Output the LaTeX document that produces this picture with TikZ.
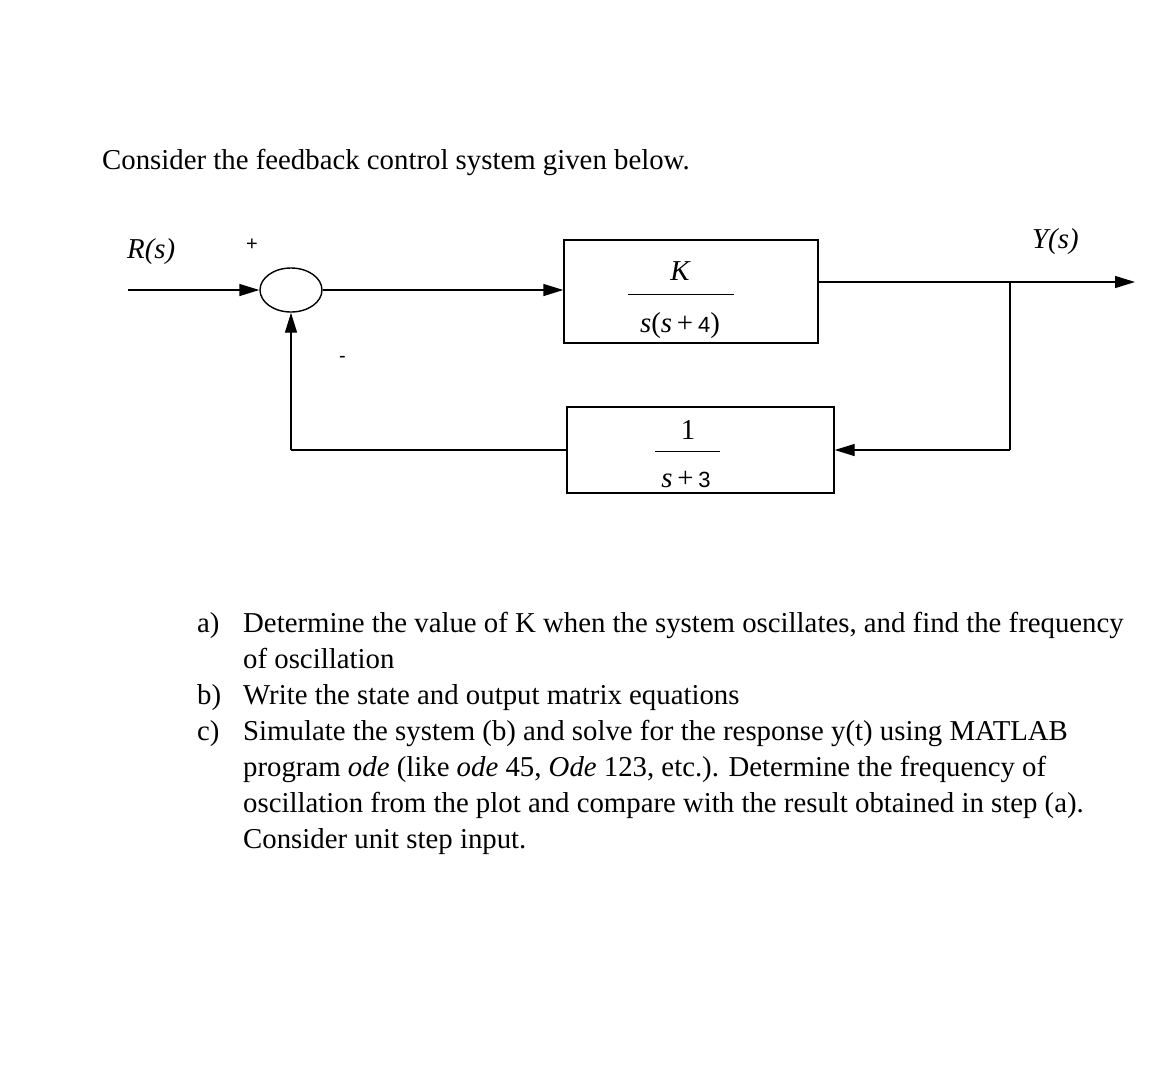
\documentclass[tikz,border=0pt]{standalone}
\usepackage{fontspec}
\setmainfont{Liberation Serif}
\newfontfamily\sansf{Liberation Sans}
\usetikzlibrary{arrows.meta,shapes.geometric}
\begin{document}
\begin{tikzpicture}[x=1pt,y=-1pt,
  txt/.style={anchor=base west,inner sep=0pt,font=\fontsize{28.8}{32}\selectfont},
  blk/.style={draw,line width=1.4pt},
  ln/.style={line width=1.4pt},
  arr/.style={ln,-{Triangle[length=20pt,width=12pt]}}]
\useasboundingbox (0,0) rectangle (1164,1080);
\node[txt] (title) at (102,169) {Consider the feedback control system given below.};
\node[txt] (R) at (127,258) {\itshape R(s)};
\node[txt] (plus) at (246,250) {\sansf\fontsize{20}{20}\selectfont +};
\node[txt] (minus) at (339,362) {\sansf\fontsize{20}{20}\selectfont -};
\node[txt] (Y) at (1032,248) {\itshape Y(s)};
\coordinate (in) at (128,290);
\node[draw,ellipse,line width=1.4pt,minimum width=62pt,minimum height=44pt,inner sep=0pt] (sum) at (291,290) {};
\node[blk,minimum width=254pt,minimum height=103pt] (G) at (691,291.5) {};
\node[blk,minimum width=267pt,minimum height=86pt] (H) at (700.5,450) {};
\node[txt,anchor=base] (K) at (680,280) {\itshape K};
\draw[line width=1pt] (628,294) -- (734,294);
\node[txt,anchor=base] (Gd) at (680,332) {\itshape s\upshape(\itshape s\upshape\,+\,{\sansf\fontsize{22}{22}\selectfont 4})};
\node[txt,anchor=base] (one) at (688,439) {1};
\draw[line width=1pt] (655,451) -- (720,451);
\node[txt,anchor=base] (Hd) at (686,487) {\itshape s\upshape\,+\,{\sansf\fontsize{22}{22}\selectfont 3}};
\coordinate (out) at (1135,282);
\coordinate (br) at (1010,282);
\coordinate (brd) at (1010,450);
\coordinate (fb) at (291,450);
\draw[arr] (in) -- (sum.west);
\draw[arr] (sum.east) -- (G.west |- sum.east);
\draw[arr] (G.east |- out) -- (out);
\draw[ln] (br) -- (brd);
\draw[arr] (brd) -- (H.east);
\draw[ln] (H.west) -- (fb);
\draw[arr] (fb) -- (sum.south);
\node[txt] (la) at (197,632) {a)};
\node[txt] (a1) at (243,632) {Determine the value of K when the system oscillates, and find the frequency};
\node[txt] (a2) at (243,668) {of oscillation};
\node[txt] (lb) at (197,704) {b)};
\node[txt] (b1) at (243,704) {Write the state and output matrix equations};
\node[txt] (lc) at (197,740) {c)};
\node[txt] (c1) at (243,740) {Simulate the system (b) and solve for the response y(t) using MATLAB};
\node[txt] (c2) at (243,776) {program \textit{ode} (like \textit{ode} 45, \textit{Ode} 123, etc.). Determine the frequency of};
\node[txt] (c3) at (243,812) {oscillation from the plot and compare with the result obtained in step (a).};
\node[txt] (c4) at (243,848) {Consider unit step input.};
\end{tikzpicture}
\end{document}
